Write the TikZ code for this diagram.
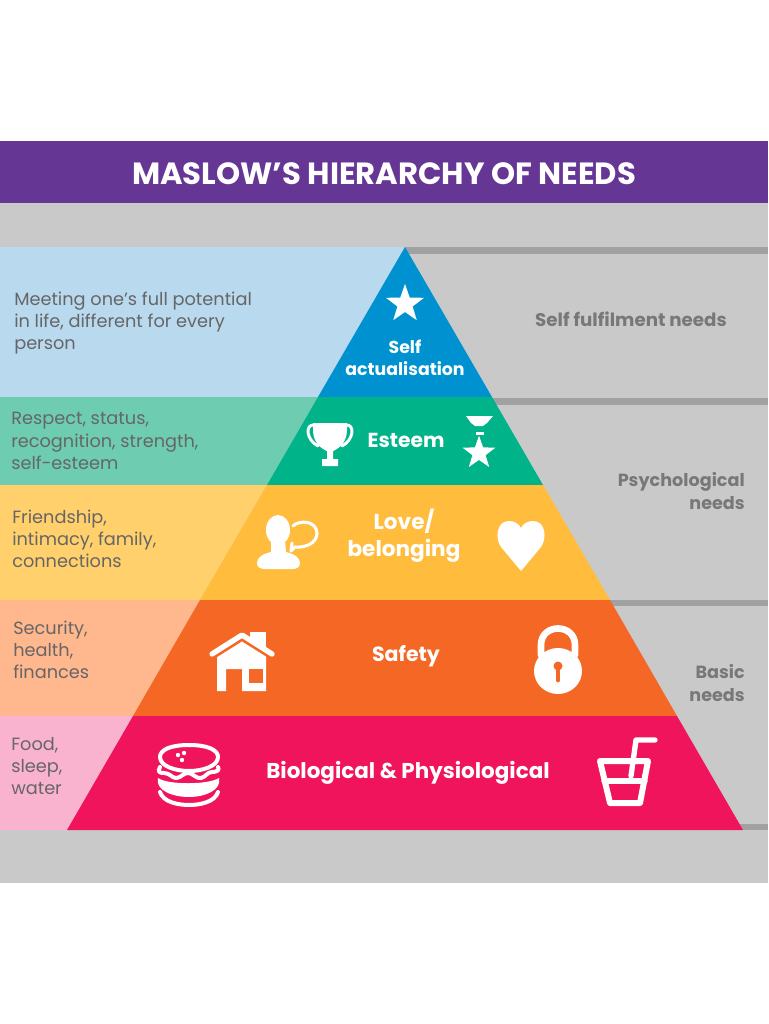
\documentclass[tikz,border=0pt]{standalone}
\usepackage{fontspec}
\setmainfont{Poppins}
\usetikzlibrary{shapes.geometric}
\definecolor{headPurple}{HTML}{663695}
\definecolor{backGray}{HTML}{C9C9C9}
\definecolor{ruleGray}{HTML}{A1A1A1}
\definecolor{noteGray}{HTML}{666666}
\definecolor{sideGray}{HTML}{787878}
\definecolor{selfBlue}{HTML}{0092D0}
\definecolor{selfLight}{HTML}{B8D9EE}
\definecolor{estGreen}{HTML}{00B388}
\definecolor{estLight}{HTML}{6ECDB0}
\definecolor{loveYellow}{HTML}{FFBC3D}
\definecolor{loveLight}{HTML}{FFD06B}
\definecolor{safeOrange}{HTML}{F56724}
\definecolor{safeLight}{HTML}{FFB78E}
\definecolor{bioPink}{HTML}{F0145C}
\definecolor{bioLight}{HTML}{F9B3CF}

\begin{document}
\begin{tikzpicture}[
    x = .75pt,
    y = -.75pt,
    line join = round,
    note/.style = {anchor = west, align = left, inner sep = 0pt, text = noteGray, font = \fontsize{13.3}{16.6}\selectfont},
    side/.style = {anchor = east, align = right, inner sep = 0pt, text = sideGray, font = \fontsize{13.2}{16.6}\selectfont\bfseries},
    level/.style = {align = center, inner sep = 0pt, text = white},
    starIcon/.style = {star, star points = 5, star point ratio = 2.5, fill = white, inner sep = 0pt},
    glyph/.style = {draw = white, line cap = round}
]
\useasboundingbox (0,0) rectangle (768,1024);
\fill[white] (0,0) rectangle (768,1024);

% Background and header
\fill[backGray] (0,203) rectangle (768,883);
\fill[headPurple] (0,141) rectangle (768,203);
\node[text = white, inner sep = 0pt, font = \fontsize{23}{26}\selectfont\bfseries] (title) at (384,174) {MASLOW’S HIERARCHY OF NEEDS};

% Rules on the right
\fill[ruleGray] (405,247) rectangle (768,254);
\fill[ruleGray] (490,398) rectangle (768,405);
\fill[ruleGray] (608,600) rectangle (768,606);
\fill[ruleGray] (738,824) rectangle (768,830);

% Left panels
\fill[selfLight]  (0,247) -- (405,247) -- (318,397) -- (0,397) -- cycle;
\fill[estLight]   (0,397) -- (318,397) -- (267,485) -- (0,485) -- cycle;
\fill[loveLight]  (0,485) -- (267,485) -- (200,600) -- (0,600) -- cycle;
\fill[safeLight]  (0,600) -- (200,600) -- (133,716) -- (0,716) -- cycle;
\fill[bioLight]   (0,716) -- (133,716) -- (67,830) -- (0,830) -- cycle;

% Pyramid
\fill[selfBlue]   (405,247) -- (492,397) -- (318,397) -- cycle;
\fill[estGreen]   (318,397) -- (492,397) -- (543,485) -- (267,485) -- cycle;
\fill[loveYellow] (267,485) -- (543,485) -- (610,600) -- (200,600) -- cycle;
\fill[safeOrange] (200,600) -- (610,600) -- (677,716) -- (133,716) -- cycle;
\fill[bioPink]    (133,716) -- (677,716) -- (743,830) -- (67,830) -- cycle;

% Texts on the left
\node[note] (noteSelf) at (14,323)  {Meeting one’s full potential\\in life, different for every\\person};
\node[note] (noteEst)  at (11,441)  {Respect, status,\\recognition, strength,\\self-esteem};
\node[note] (noteLove) at (12,539)  {Friendship,\\intimacy, family,\\connections};
\node[note] (noteSafe) at (13,650)  {Security,\\health,\\finances};
\node[note] (noteBio)  at (11,766)  {Food,\\sleep,\\water};

% Texts on the right
\node[side, anchor = center, font = \fontsize{13.7}{16.6}\selectfont\bfseries] (sideSelf) at (631,319) {Self fulfilment needs};
\node[side] (sidePsy)   at (745,491) {Psychological\\needs};
\node[side] (sideBasic) at (745,683) {Basic\\needs};

% Levels
\node[level, font = \fontsize{13}{16.6}\selectfont\bfseries]   (lvlSelf) at (405,358) {Self\\actualisation};
\node[level, font = \fontsize{15.2}{18}\selectfont\bfseries]   (lvlEst)  at (406,440) {Esteem};
\node[level, font = \fontsize{16.2}{20.2}\selectfont\bfseries] (lvlLove) at (404,536) {Love/\\belonging};
\node[level, font = \fontsize{15.4}{18}\selectfont\bfseries]   (lvlSafe) at (406,656) {Safety};
\node[level, font = \fontsize{16.1}{18}\selectfont\bfseries]   (lvlBio)  at (408,773) {Biological \& Physiological};

% Star
\node[starIcon, minimum size = 30pt] (starSelf) at (405,304) {};

% Trophy
\fill[white] (313,423) -- (347,423) -- (347,430) .. controls (347,443) and (338,449) .. (333,451)
    -- (333,459) -- (338,459) -- (338,466) -- (322,466) -- (322,459) -- (327,459) -- (327,451)
    .. controls (322,449) and (313,443) .. (313,430) -- cycle;
\draw[glyph, line width = 2.2pt] (314,425) .. controls (305,424) and (306,440) .. (318,446);
\draw[glyph, line width = 2.2pt] (346,425) .. controls (355,424) and (354,440) .. (342,446);

% Medal
\fill[white] (466,416) -- (493,416) -- (487,423) -- (483,426) -- (475,426) -- (471,423) -- cycle;
\fill[white] (476,432) rectangle (484,435);
\node[starIcon, minimum size = 26pt] (starMedal) at (479,453) {};

% Person and speech bubble
\fill[white] (278,530) ellipse (12 and 15);
\fill[white] (271,540) -- (285,540) -- (286,552) .. controls (296,554) and (300,559) .. (300,563)
    .. controls (300,568) and (296,569) .. (292,569) -- (265,569)
    .. controls (260,569) and (257,567) .. (257,563) .. controls (257,558) and (262,554) .. (271,552) -- cycle;
\draw[glyph, line width = 2.3pt] (293,526) .. controls (299,520) and (316,520) .. (317,533)
    .. controls (317,544) and (304,548) .. (295,547) -- (291,551) -- (292,543);

% Heart
\fill[white] (521,571) -- (501,547) .. controls (495,539) and (496,521) .. (509,521)
    .. controls (515,521) and (519,524) .. (521,528) .. controls (523,524) and (527,521) .. (533,521)
    .. controls (546,521) and (547,539) .. (541,547) -- cycle;

% House
\fill[white] (217,652) -- (242,637) -- (266,652) -- (266,691) -- (242,691) -- (242,669) -- (226,669) -- (226,691) -- (217,691) -- cycle;
\fill[white] (250,632) rectangle (266,650);
\draw[safeOrange, line width = 5.5pt, line cap = round] (207,659) -- (242,637) -- (277,659);
\draw[glyph, line width = 4pt] (212,654) -- (242,635) -- (272,654);
\fill[safeOrange] (249,669) rectangle (263,683);

% Lock
\draw[glyph, line width = 5pt] (541,655) -- (541,645) .. controls (541,623) and (575,623) .. (575,645) -- (575,655);
\fill[white] (558,671) ellipse (24 and 23);
\fill[safeOrange] (558,666) circle (4.5);
\draw[safeOrange, line width = 3.6pt, line cap = round] (558,667) -- (558,680);

% Burger
\draw[glyph, line width = 3pt] (189,745) .. controls (170,745) and (160,750) .. (160,757)
    .. controls (160,766) and (175,771) .. (189,771) .. controls (203,771) and (218,766) .. (218,757)
    .. controls (218,750) and (208,745) .. (189,745) -- cycle;
\fill[white] (178,755) circle (2.2) (184,753) circle (2.2) (182,760) circle (2.2);
\draw[glyph, line width = 3pt] (160,767) .. controls (157,772) and (160,773) .. (164,773)
    .. controls (170,773) and (172,778) .. (176,778) .. controls (181,778) and (183,773) .. (188,773)
    .. controls (193,773) and (196,779) .. (201,778) .. controls (206,777) and (207,772) .. (212,772)
    .. controls (217,772) and (220,770) .. (218,767);
\fill[white] (158,778) .. controls (168,785) and (208,785) .. (219,778)
    .. controls (222,790) and (205,797) .. (189,797) .. controls (172,797) and (155,790) .. (158,778) -- cycle;
\draw[glyph, line width = 3pt] (160,792) .. controls (163,802) and (178,805) .. (189,805)
    .. controls (200,805) and (215,802) .. (218,792);

% Cup
\draw[glyph, line width = 4.5pt] (600,761) -- (648,761) -- (640,803) -- (610,803) -- cycle;
\draw[glyph, line width = 4pt] (604,781) -- (645,781);
\draw[glyph, line width = 4pt] (631,776) -- (636,740) -- (655,740);
\end{tikzpicture}
\end{document}
